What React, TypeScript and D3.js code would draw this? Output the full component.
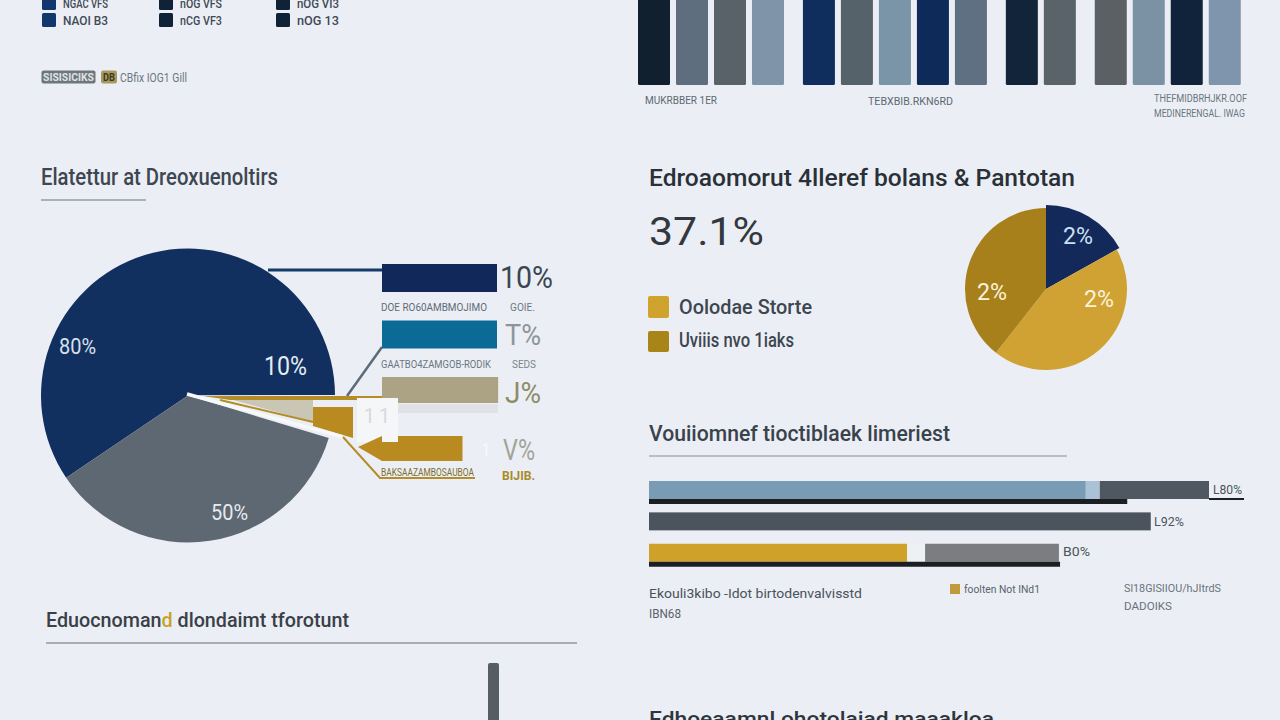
import React from 'react'
import { arc, pie, scaleBand, scaleLinear } from 'd3'

// top right columns, bars run off the top of the page
const columnLabels = ['a1', 'a2', 'a3', 'a4', 'b1', 'b2', 'b3', 'b4', 'b5', 'c1', 'c2', 'd1', 'd2', 'd3', 'd4']
const columnGroups = [0, 0, 0, 0, 1, 1, 1, 1, 1, 2, 2, 3, 3, 3, 3]
const columnValues = [120, 118, 122, 119, 121, 118, 120, 123, 119, 117, 121, 120, 118, 122, 119]
const columnColors = ['#10202e', '#5e6e7e', '#596268', '#7f94a8', '#0f2e5e', '#56626a', '#7a94a8', '#0e2a58', '#5f7082', '#12243a', '#596369', '#5a6064', '#7b92a4', '#11233a', '#7f95ae']

const legendRows = [
  ['NGAC VFS', 'nOG VFS', 'nOG VI3'],
  ['NAOI B3', 'nCG VF3', 'nOG 13'],
]
const legendColors = ['#12376c', '#0f2238', '#0f2238']

// big pie
const mainPieLabels = ['navy', 'gap', 'gray']
const mainPieValues = [59.4, 4.7, 35.9]
const mainPieColors = ['#12305f', '#ebeff5', '#5e6873']

// bars next to the big pie
const shareNames = ['DOE RO60AMBMOJIMO', 'GAATBO4ZAMGOB-RODIK', 'BEIGE', 'BAKSAAZAMBOSAUBOA']
const shareValues = [100, 100, 101, 70]
const shareColors = ['#11295a', '#0b6a96', '#aba383', '#b98a1f']
const sharePercent = ['10%', 'T%', 'J%', 'V%']

// small pie
const smallPieValues = [16.9, 43.7, 39.4]
const smallPieColors = ['#12295a', '#cfa233', '#a8801b']
const smallPieLabels = ['2%', '2%', '2%']
const smallPieLabelColors = ['#cfe0f2', '#fbf3dc', '#fbf3dc']

// stacked bars
const stackRows = ['one', 'two', 'three']
const stackFirst = [78, 89.6, 46.1]
const stackSecond = [2.5, 0, 3.2]
const stackThird = [19.5, 0, 23.9]
const stackUnderline = [85.4, 0, 73.4]
const stackFirstColors = ['#7a9bb4', '#4b545d', '#cfa128']
const stackSecondColors = ['#a9c2d6', 'none', '#eef1f4']
const stackThirdColors = ['#4f5860', 'none', '#7b7d80']
const stackLabels = ['L80%', 'L92%', 'B0%']

const lowerBars = ['x']
const lowerValues = [100]

const Label = ({ x, y, w, size, fill, weight = 400, anchor = 'start', font = 'Roboto, sans-serif', children }: any) => (
  <text x={x} y={y} textLength={w} lengthAdjust='spacingAndGlyphs' fontSize={size} fill={fill} fontWeight={weight} textAnchor={anchor} fontFamily={font}>
    {children}
  </text>
)

const Columns = () => {
  const x = scaleLinear().domain([0, 15]).range([638, 1208])
  const y = scaleLinear().domain([0, 120]).range([85, -20])
  const w = 32
  return (
    <g>
      {columnLabels.map((label, i) => {
        const pos = x(i + columnGroups[i] * 0.34)
        return <rect key={label} x={pos} y={y(columnValues[i])} width={w} height={y(0) - y(columnValues[i])} rx={1.5} fill={columnColors[i]} />
      })}
      <Label x={645} y={104} w={72} size={11} fill='#5d6873'>MUKRBBER 1ER</Label>
      <Label x={868} y={105} w={85} size={11} fill='#5d6873'>TEBXBIB.RKN6RD</Label>
      <Label x={1154} y={102} w={93} size={10.5} fill='#6a7580'>THEFMIDBRHJKR.OOF</Label>
      <Label x={1154} y={117} w={91} size={10.5} fill='#6a7580'>MEDINERENGAL. IWAG</Label>
    </g>
  )
}

const TopLegend = () => {
  const col = scaleBand().domain(['0', '1', '2']).range([42, 393]).paddingInner(0)
  const row = scaleBand().domain(['0', '1']).range([-6, 28])
  return (
    <g>
      {legendRows.map((names, r) =>
        names.map((name, c) => (
          <g key={name + r}>
            <rect x={col(String(c))} y={(row(String(r)) ?? 0) + 2} width={14} height={14} rx={1.5} fill={legendColors[c]} />
            <Label x={(col(String(c)) ?? 0) + 21} y={(row(String(r)) ?? 0) + 14} w={c === 0 ? 45 : 42} size={12} fill='#3f4954' weight={500}>{name}</Label>
          </g>
        ))
      )}
      <rect x={41.5} y={70.5} width={54} height={13} rx={2} fill='#6f767c' />
      <Label x={43} y={81} w={51} size={11} fill='#dfe3e6' weight={700}>SISISICIKS</Label>
      <rect x={101} y={70.5} width={16} height={13} rx={2} fill='#a79a5f' />
      <Label x={103} y={81} w={12} size={11} fill='#3c3a22' weight={700}>DB</Label>
      <Label x={120} y={82} w={67} size={12} fill='#6d7680'>CBfix IOG1 Gill</Label>
    </g>
  )
}

const MainPie = () => {
  const slices = pie<number>().sort(null).startAngle((236 * Math.PI) / 180).endAngle((596 * Math.PI) / 180)(mainPieValues)
  const path = arc<any>().innerRadius(0).outerRadius(147)
  const cx = 188
  const cy = 395.5
  return (
    <g>
      <Label x={41} y={185} w={237} size={24} fill='#3d4651' weight={500}>Elatettur at Dreoxuenoltirs</Label>
      <line x1={41} x2={146} y1={200} y2={200} stroke='#a9b1bb' strokeWidth={2} />
      <g transform={`translate(${cx},${cy})`}>
        {slices.map((s, i) => <path key={mainPieLabels[i]} d={path(s) ?? ''} fill={mainPieColors[i]} />)}
      </g>
      <Label x={59} y={354} w={37} size={22} fill='#d8e0ea'>80%</Label>
      <Label x={264} y={375} w={43} size={25} fill='#e6ecf3'>10%</Label>
      <Label x={211} y={520} w={37} size={22} fill='#e6eaee'>50%</Label>
    </g>
  )
}

const ShareBars = () => {
  const x = scaleLinear().domain([0, 100]).range([382, 497])
  const y = scaleBand().domain(shareNames).range([264, 492]).paddingInner(0)
  return (
    <g>
      <rect x={398} y={404} width={100} height={9} fill='#dfe3e7' />
      <line x1={268} x2={382} y1={270} y2={270} stroke='#153a6b' strokeWidth={3} />
      <line x1={347} x2={382} y1={396} y2={347} stroke='#5d6b78' strokeWidth={2.5} />
      {shareNames.map((name, i) => (
        <rect key={name} x={x(0)} y={i === 3 ? 436 : (y(name) ?? 0) - i * 0.5} width={x(shareValues[i]) - x(0)} height={i === 3 ? 25 : i === 2 ? 26 : 28} fill={shareColors[i]} />
      ))}
      {/* the tangle of leader shapes in the cut out slice */}
      <polygon points='233,400 313,400 313,422' fill='#c9c6b6' />
      <polygon points='203,396 382,396 382,400 230,400' fill='#b48c28' />
      <line x1={220} y1={400} x2={313} y2={422} stroke='#b48c28' strokeWidth={2} />
      <polygon points='313,407 353,407 353,438 333,432 313,426' fill='#b98a1f' />
      <line x1={187} y1={394} x2={343} y2={437} stroke='#f6f8fa' strokeWidth={3.5} />
      <rect x={357} y={398} width={41} height={44} fill='#f4f6f8' />
      <Label x={364} y={423} w={26} size={20} fill='#d4d9de'>1 1</Label>
      <polygon points='358,447 382,436 382,461' fill='#b98a1f' />
      <polyline points='343,437 380,478 475,478' fill='none' stroke='#b48c28' strokeWidth={2} />
      <Label x={482} y={456} w={8} size={18} fill='#f8f9fb'>1</Label>

      <Label x={500} y={288} w={53} size={32} fill='#3a4652'>{sharePercent[0]}</Label>
      <Label x={505} y={345} w={36} size={29} fill='#8d949a'>{sharePercent[1]}</Label>
      <Label x={505} y={403} w={36} size={29} fill='#8e8c68'>{sharePercent[2]}</Label>
      <Label x={503} y={460} w={32} size={29} fill='#a2a49a'>{sharePercent[3]}</Label>

      <Label x={381} y={311} w={106} size={11} fill='#5f6a75'>{shareNames[0]}</Label>
      <Label x={510} y={311} w={25} size={11} fill='#6f7882'>GOIE.</Label>
      <Label x={381} y={368} w={110} size={11} fill='#6a7580'>{shareNames[1]}</Label>
      <Label x={512} y={368} w={24} size={11} fill='#7a838c'>SEDS</Label>
      <Label x={381} y={476} w={93} size={10.5} fill='#7c6d2a'>{shareNames[3]}</Label>
      <Label x={502} y={480} w={33} size={12.5} fill='#a88a2a' weight={700}>BIJIB.</Label>
    </g>
  )
}

const SmallPie = () => {
  const slices = pie<number>().sort(null)(smallPieValues)
  const path = arc<any>().innerRadius(0)
  const labelAt = [[1078, 236], [1099, 299], [992, 292]]
  return (
    <g>
      <Label x={649} y={186} w={426} size={24} fill='#2a3038' weight={500}>Edroaomorut 4lleref bolans & Pantotan</Label>
      <Label x={649} y={245} w={115} size={38} fill='#33383e'>37.1%</Label>
      <rect x={648} y={296} width={21} height={22} rx={2} fill='#d0a32f' />
      <rect x={648} y={331} width={21} height={21} rx={2} fill='#a88419' />
      <Label x={679} y={314} w={133} size={20} fill='#3d4650' weight={500}>Oolodae Storte</Label>
      <Label x={679} y={347} w={115} size={20} fill='#3d4650' weight={500}>Uviiis nvo 1iaks</Label>
      <g transform='translate(1046,289)'>
        {slices.map((s, i) => (
          <path key={i} d={path({ ...s, outerRadius: i === 0 ? 84 : 81 }) ?? ''} fill={smallPieColors[i]} />
        ))}
      </g>
      {smallPieLabels.map((t, i) => (
        <Label key={i} x={labelAt[i][0]} y={labelAt[i][1] + 8} w={30} size={23} fill={smallPieLabelColors[i]} anchor='middle'>{t}</Label>
      ))}
    </g>
  )
}

const StackedBars = () => {
  const x = scaleLinear().domain([0, 100]).range([649, 1209])
  const y = scaleBand().domain(stackRows).range([481, 561]).paddingInner(0.45)
  const h = 18
  return (
    <g>
      <Label x={649} y={441} w={301} size={22} fill='#3a424c' weight={500}>Vouiiomnef tioctiblaek limeriest</Label>
      <line x1={649} x2={1067} y1={456} y2={456} stroke='#a8aeb5' strokeWidth={1.5} />
      {stackRows.map((row, i) => {
        const top = y(row) ?? 0
        const a = stackFirst[i]
        const b = stackSecond[i]
        const c = stackThird[i]
        return (
          <g key={row}>
            <rect x={x(0)} y={top} width={x(a) - x(0)} height={h} fill={stackFirstColors[i]} />
            {b > 0 && <rect x={x(a)} y={top} width={x(a + b) - x(a)} height={h} fill={stackSecondColors[i]} />}
            {c > 0 && <rect x={x(a + b)} y={top} width={x(a + b + c) - x(a + b)} height={h} fill={stackThirdColors[i]} />}
            {stackUnderline[i] > 0 && <rect x={x(0)} y={top + h} width={x(stackUnderline[i]) - x(0)} height={5} fill='#1c1f22' />}
          </g>
        )
      })}
      <rect x={1209} y={498} width={35} height={2} fill='#1c1f22' />
      <Label x={1213} y={494} w={29} size={13} fill='#4c545c'>{stackLabels[0]}</Label>
      <Label x={1154} y={526} w={30} size={13} fill='#4c545c'>{stackLabels[1]}</Label>
      <Label x={1063} y={556} w={27} size={13} fill='#4c545c'>{stackLabels[2]}</Label>

      <Label x={649} y={598} w={213} size={13} fill='#4a525b'>Ekouli3kibo -Idot birtodenvalvisstd</Label>
      <Label x={649} y={618} w={32} size={12} fill='#5a626b'>IBN68</Label>
      <rect x={950} y={584} width={10} height={10} fill='#c09a3c' />
      <Label x={964} y={593} w={76} size={11} fill='#5a626b'>foolten Not INd1</Label>
      <Label x={1124} y={592} w={97} size={11} fill='#6a727b'>Sl18GISIIOU/hJItrdS</Label>
      <Label x={1124} y={610} w={48} size={11} fill='#6a727b'>DADOIKS</Label>
    </g>
  )
}

const LowerSection = () => {
  const x = scaleBand().domain(lowerBars).range([488, 499])
  const y = scaleLinear().domain([0, 100]).range([760, 663])
  return (
    <g>
      <text x={46} y={627} textLength={303} lengthAdjust='spacingAndGlyphs' fontSize={21} fontWeight={500} fill='#3a4048' fontFamily='Roboto, sans-serif'>
        Eduocnoman<tspan fill='#c8a21e'>d</tspan> dlondaimt tforotunt
      </text>
      <line x1={46} x2={577} y1={643} y2={643} stroke='#a9aeb4' strokeWidth={2} />
      {lowerBars.map((b, i) => (
        <rect key={b} x={x(b)} y={y(lowerValues[i])} width={x.bandwidth()} height={y(0) - y(lowerValues[i])} rx={2} fill='#565d65' />
      ))}
      <Label x={649} y={726} w={345} size={21} fill='#2f353c' weight={500}>Edhoeaamnl ohotolaiad maaakloa</Label>
    </g>
  )
}

export default function App() {
  return (
    <svg width={1280} height={720} viewBox='0 0 1280 720' style={{ position: 'absolute', left: 0, top: 0, display: 'block' }}>
      <rect width={1280} height={720} fill='#ebeff5' />
      <TopLegend />
      <Columns />
      <MainPie />
      <ShareBars />
      <SmallPie />
      <StackedBars />
      <LowerSection />
    </svg>
  )
}
